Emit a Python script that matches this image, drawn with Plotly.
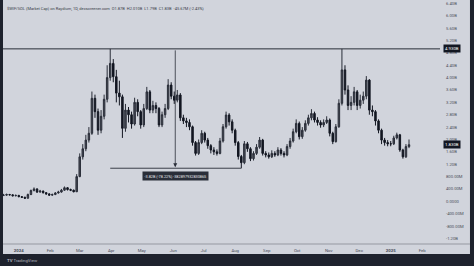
import pandas as pd
import plotly.graph_objects as go

# ---------------- data (values in billions) ----------------
start_date = "2023-12-17"
first_open = 0.19
close = [0.20, 0.22, 0.21, 0.18, 0.19, 0.15, 0.13, 0.10, 0.22, 0.35,
         0.40, 0.30, 0.33, 0.28, 0.24, 0.20, 0.22, 0.27, 0.30, 0.36,
         0.44, 0.38, 0.36, 0.31, 0.80, 1.44, 1.70, 1.98, 2.20, 3.33,
         2.90, 2.30, 2.75, 3.30, 4.00, 4.46, 4.03, 3.50, 3.38, 2.36,
         2.95, 2.80, 2.50, 3.20, 2.90, 2.47, 3.00, 3.54, 2.95, 3.10,
         3.00, 2.47, 2.80, 3.00, 3.76, 3.40, 3.27, 3.44, 2.70, 2.60,
         2.55, 2.41, 1.90, 1.55, 1.90, 2.20, 1.98, 1.80, 1.66, 1.60,
         1.55, 1.95, 2.41, 2.79, 2.57, 2.30, 1.90, 1.45, 1.25, 1.86,
         1.70, 1.38, 1.55, 1.75, 1.98, 1.55, 1.50, 1.44, 1.55, 1.50,
         1.66, 1.55, 1.50, 1.77, 1.95, 2.25, 2.52, 2.09, 2.30, 2.52,
         2.70, 2.84, 2.63, 2.55, 2.47, 2.55, 2.63, 2.20, 1.93, 2.41,
         3.17, 4.25, 3.60, 3.10, 3.20, 3.54, 3.10, 3.27, 3.40, 3.92,
         2.95, 2.90, 2.60, 2.30, 1.98, 1.90, 1.86, 1.86, 2.05, 2.15,
         1.66, 1.44, 1.77, 1.83]
high = [0.24, 0.25, 0.24, 0.23, 0.22, 0.21, 0.17, 0.15, 0.25, 0.38,
        0.45, 0.42, 0.37, 0.35, 0.30, 0.26, 0.25, 0.30, 0.34, 0.40,
        0.48, 0.46, 0.41, 0.38, 0.88, 1.55, 1.85, 2.15, 2.40, 3.55,
        3.45, 3.00, 2.95, 3.45, 4.40, 4.93, 4.60, 4.25, 3.90, 3.45,
        3.15, 3.05, 2.90, 3.35, 3.30, 2.95, 3.15, 3.70, 3.60, 3.25,
        3.20, 3.05, 2.90, 3.15, 3.95, 3.85, 3.55, 3.60, 3.50, 2.80,
        2.70, 2.65, 2.45, 1.95, 2.00, 2.30, 2.25, 2.05, 1.85, 1.75,
        1.68, 2.05, 2.50, 2.90, 2.85, 2.65, 2.35, 1.95, 1.50, 1.95,
        1.92, 1.75, 1.62, 1.85, 2.08, 2.02, 1.62, 1.58, 1.65, 1.62,
        1.75, 1.72, 1.62, 1.85, 2.05, 2.35, 2.65, 2.58, 2.40, 2.62,
        2.80, 2.98, 2.90, 2.72, 2.62, 2.65, 2.75, 2.68, 2.25, 2.50,
        3.30, 4.93, 4.40, 3.75, 3.40, 3.70, 3.60, 3.45, 3.55, 4.05,
        3.95, 3.10, 2.95, 2.65, 2.35, 2.05, 1.98, 1.95, 2.12, 2.22,
        2.18, 1.70, 1.85, 2.00]
low = [0.17, 0.18, 0.19, 0.16, 0.16, 0.13, 0.11, 0.08, 0.09, 0.20,
       0.32, 0.27, 0.28, 0.25, 0.21, 0.18, 0.18, 0.20, 0.25, 0.28,
       0.34, 0.35, 0.33, 0.29, 0.30, 0.78, 1.35, 1.62, 1.90, 2.15,
       2.70, 2.15, 2.20, 2.65, 3.20, 3.90, 3.85, 3.20, 3.10, 2.05,
       2.25, 2.55, 2.35, 2.45, 2.75, 2.35, 2.40, 2.95, 2.85, 2.85,
       2.85, 2.40, 2.40, 2.70, 2.95, 3.30, 3.15, 3.20, 2.60, 2.50,
       2.40, 2.30, 1.80, 1.48, 1.50, 1.85, 1.90, 1.70, 1.55, 1.50,
       1.48, 1.52, 1.90, 2.35, 2.45, 2.20, 1.80, 1.35, 1.07, 1.20,
       1.60, 1.30, 1.32, 1.50, 1.70, 1.48, 1.42, 1.38, 1.40, 1.44,
       1.46, 1.48, 1.42, 1.46, 1.70, 1.90, 2.20, 2.00, 2.02, 2.25,
       2.45, 2.62, 2.55, 2.45, 2.38, 2.40, 2.50, 2.10, 1.85, 1.90,
       2.38, 3.10, 3.45, 2.95, 2.95, 3.10, 2.95, 3.00, 3.15, 3.30,
       2.80, 2.75, 2.45, 2.20, 1.85, 1.80, 1.78, 1.78, 1.82, 2.00,
       1.60, 1.38, 1.40, 1.72]

dates = pd.date_range(start_date, periods=len(close), freq="3D")
opens = [first_open] + close[:-1]

x_tick_dates = ["2024-01-01", "2024-02-01", "2024-03-01", "2024-04-01", "2024-05-01",
                "2024-06-01", "2024-07-01", "2024-08-01", "2024-09-01", "2024-10-01",
                "2024-11-01", "2024-12-01", "2025-01-01", "2025-02-01"]
x_tick_text = ["<b>2024</b>", "Feb", "Mar", "Apr", "May", "Jun", "Jul", "Aug", "Sep",
               "Oct", "Nov", "Dec", "<b>2025</b>", "Feb"]
y_tick_vals = [-1.2, -0.8, -0.4, 0.0, 0.4, 0.8, 1.2, 1.6, 2.0, 2.4, 2.8, 3.2, 3.6,
               4.0, 4.4, 4.8, 5.2, 5.6, 6.0, 6.4]
y_tick_text = ["-1.20B", "-800.00M", "-400.00M", "0.0000", "400.00M", "800.00M", "1.20B",
               "1.60B", "2.00B", "2.40B", "2.80B", "3.20B", "3.60B", "4.00B", "4.40B",
               "4.80B", "5.20B", "5.60B", "6.00B", "6.40B"]

title_text = ("$WIF/SOL (Market Cap) on Raydium, 1D, dexscreener.com  O1.87B  H2.010B  "
              "L1.79B  C1.83B  -45.67M (-2.43%)")
ath_level = 4.93
last_level = 1.83
measure_low = 1.07
measure_start = "2024-03-31"
measure_end = "2024-08-07"
measure_mid = "2024-06-03"
measure_text = "-3.82B (-78.22%) -382897932830865"

# ---------------- styling ----------------
PANEL = "#d1d4dc"
DARK = "#1e222d"
INK = "#131722"
LABEL = "#4a4e59"
FONT = "Roboto"

fig = go.Figure(go.Candlestick(
    x=dates, open=opens, high=high, low=low, close=close,
    increasing=dict(line=dict(color="#2a2e39", width=1), fillcolor="#474b56"),
    decreasing=dict(line=dict(color=INK, width=1), fillcolor=INK),
    whiskerwidth=0, showlegend=False, hoverinfo="skip",
))

fig.update_layout(
    width=474, height=266,
    margin=dict(l=3, r=34, t=0, b=22),
    paper_bgcolor=PANEL, plot_bgcolor=PANEL,
    font=dict(family=FONT, color=LABEL, size=4.3),
    showlegend=False,
    xaxis=dict(
        type="date", range=["2023-12-16 12:00", "2025-02-18 12:00"],
        rangeslider=dict(visible=False), showgrid=False, zeroline=False,
        tickvals=x_tick_dates, ticktext=x_tick_text, ticks="",
        ticklabelstandoff=3, tickfont=dict(size=4.3, color=LABEL),
        showline=False, fixedrange=True,
    ),
    yaxis=dict(
        side="right", range=[-1.38, 6.51], showgrid=False, zeroline=False,
        tickvals=y_tick_vals, ticktext=y_tick_text, ticks="",
        ticklabelstandoff=5, tickfont=dict(size=4.2, color=LABEL),
        showline=False, fixedrange=True,
    ),
)

shapes = [
    # outer dark frame
    dict(type="rect", xref="paper", yref="paper", x0=-0.01, x1=0.0, y0=-0.1, y1=1.01,
         fillcolor=DARK, line=dict(width=0), layer="above"),
    dict(type="rect", xref="paper", yref="paper", x0=1.0686, x1=1.09, y0=-0.1, y1=1.01,
         fillcolor=DARK, line=dict(width=0), layer="above"),
    dict(type="rect", xref="paper", yref="paper", x0=-0.01, x1=1.09, y0=-0.1, y1=-0.041,
         fillcolor=DARK, line=dict(width=0), layer="above"),
    # time axis separator
    dict(type="line", xref="paper", yref="paper", x0=0, x1=1.0686, y0=0, y1=0,
         line=dict(color="#9598a1", width=1), layer="above"),
    # ATH horizontal line
    dict(type="line", xref="paper", yref="y", x0=0, x1=1, y0=ath_level, y1=ath_level,
         line=dict(color="#2a2e39", width=1), layer="above"),
    # measurement base line
    dict(type="line", xref="x", yref="y", x0=measure_start, x1=measure_end,
         y0=measure_low, y1=measure_low, line=dict(color="#3b3f4a", width=1), layer="above"),
]
fig.update_layout(shapes=shapes)

annotations = [
    dict(xref="paper", yref="paper", x=0.005, y=(244 - 9) / 244, xanchor="left",
         yanchor="middle", showarrow=False, text=title_text,
         font=dict(size=4, color="#3a3e49", family=FONT)),
    # measurement arrow
    dict(x=measure_mid, y=measure_low + 0.03, xref="x", yref="y",
         ax=measure_mid, ay=ath_level, axref="x", ayref="y",
         showarrow=True, arrowhead=2, arrowsize=1, arrowwidth=0.8,
         arrowcolor="#2a2e39", text=""),
    dict(x=measure_mid, y=0.82, xref="x", yref="y", showarrow=False,
         text=measure_text, bgcolor="#2a2e39", borderpad=1.5,
         font=dict(size=3.8, color="#e8e9ec", family=FONT)),
    # price labels
    dict(xref="paper", x=1.006, yref="y", y=ath_level, xanchor="left", showarrow=False,
         text="4.930B", bgcolor=INK, borderpad=1,
         font=dict(size=4.3, color="#ffffff", family=FONT)),
    dict(xref="paper", x=1.006, yref="y", y=last_level, xanchor="left", showarrow=False,
         text="1.830B", bgcolor=INK, borderpad=1,
         font=dict(size=4.3, color="#ffffff", family=FONT)),
    # footer
    dict(xref="paper", yref="paper", x=0.005, y=(244 - 260.5) / 244, xanchor="left",
         yanchor="middle", showarrow=False, text="<b>TV</b> TradingView",
         font=dict(size=4.3, color="#b2b5be", family=FONT)),
]
fig.update_layout(annotations=annotations)

fig.write_html("out.html")
